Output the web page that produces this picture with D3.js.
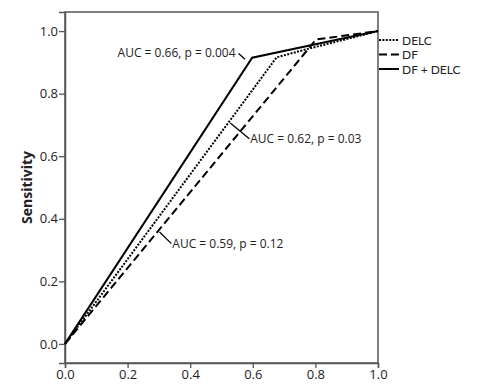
<!DOCTYPE html>
<html>
<head>
<meta charset="utf-8">
<script src="https://cdn.jsdelivr.net/npm/d3@7"></script>
<style>
  body { margin: 0; background: #fff; }
  svg text { font-family: "Open Sans", sans-serif; fill: #222; }
</style>
</head>
<body>
<svg id="chart" width="492" height="388"></svg>
<script>
// ROC points (1 - specificity, sensitivity)
var delcPoints = [[0, 0], [0.676, 0.916], [0.783, 0.945], [1, 1]];
var dfPoints = [[0, 0], [0.802, 0.973], [1, 1]];
var comboPoints = [[0, 0], [0.598, 0.915], [1, 1]];

var seriesNames = ["DELC", "DF", "DF + DELC"];
var xTicks = [0, 0.2, 0.4, 0.6, 0.8, 1.0];
var yTicks = [0, 0.2, 0.4, 0.6, 0.8, 1.0];

// annotations: text, anchor point on the curve, text start
var aucLabels = [
    { text: "AUC = 0.66, p = 0.004", at: [0.575, 0.91], tx: [0.545, 0.935], anchor: "end" },
    { text: "AUC = 0.62, p = 0.03", at: [0.528, 0.706], tx: [0.592, 0.662], anchor: "start" },
    { text: "AUC = 0.59, p = 0.12", at: [0.302, 0.358], tx: [0.343, 0.327], anchor: "start" }
];

var svg = d3.select("#chart");
var margin = { left: 65, top: 12, right: 114, bottom: 25 };
var width = 492 - margin.left - margin.right;
var height = 388 - margin.top - margin.bottom;

var x = d3.scaleLinear().domain([0, 1]).range([margin.left, margin.left + width]);
var y = d3.scaleLinear().domain([-0.061, 1.061]).range([margin.top + height, margin.top]);

// frame
svg.append("rect")
    .attr("x", x(0)).attr("y", y(1.061))
    .attr("width", width).attr("height", height)
    .attr("fill", "none").attr("stroke", "#555").attr("stroke-width", 1.5);

var xAxis = svg.append("g")
    .attr("transform", "translate(0," + y(-0.061) + ")")
    .call(d3.axisBottom(x).tickValues(xTicks).tickFormat(d3.format(".1f")).tickSize(5).tickPadding(2));
var yAxis = svg.append("g")
    .attr("transform", "translate(" + x(0) + ",0)")
    .call(d3.axisLeft(y).tickValues(yTicks).tickFormat(d3.format(".1f")).tickSize(6).tickPadding(1));

[xAxis, yAxis].forEach(function(ax) {
    ax.select(".domain").attr("stroke", "#555").attr("stroke-width", 1.5);
    ax.selectAll(".tick line").attr("stroke", "#555").attr("stroke-width", 1.3);
    ax.selectAll(".tick text").style("font-size", "13px").attr("fill", "#222")
        .style("font-family", "'Open Sans', sans-serif");
});

svg.append("text")
    .attr("transform", "translate(32," + y(0.5) + ") rotate(-90)")
    .attr("text-anchor", "middle")
    .style("font-size", "14px").style("font-weight", "bold")
    .text("Sensitivity");

var line = d3.line().x((d) => x(d[0])).y((d) => y(d[1]));

var series = [
    { name: seriesNames[0], pts: delcPoints, dash: "2,1.4" },
    { name: seriesNames[1], pts: dfPoints, dash: "8,4" },
    { name: seriesNames[2], pts: comboPoints, dash: null }
];

svg.selectAll("path.roc")
    .data(series)
    .enter()
    .append("path")
    .attr("class", "roc")
    .attr("d", (d) => line(d.pts))
    .attr("fill", "none")
    .attr("stroke", "#000")
    .attr("stroke-width", 2)
    .attr("stroke-dasharray", (d) => d.dash);

// AUC labels with leader lines
aucLabels.forEach(function(a) {
    var endX = a.anchor == "end" ? x(a.tx[0]) + 3 : x(a.tx[0]) - 1;
    svg.append("line")
        .attr("x1", x(a.at[0])).attr("y1", y(a.at[1]))
        .attr("x2", endX).attr("y2", y(a.tx[1]) + 2)
        .attr("stroke", "#000").attr("stroke-width", 1.3);
    svg.append("text")
        .attr("x", x(a.tx[0])).attr("y", y(a.tx[1]) + 6)
        .attr("text-anchor", a.anchor)
        .style("font-size", "12px")
        .text(a.text);
});

// legend
var legend = svg.selectAll("g.leg")
    .data(series)
    .enter()
    .append("g")
    .attr("class", "leg")
    .attr("transform", (d, i) => "translate(379," + (40 + i * 14.5) + ")");
legend.append("line")
    .attr("x1", 0).attr("x2", 20).attr("y1", 0).attr("y2", 0)
    .attr("stroke", "#000").attr("stroke-width", 2)
    .attr("stroke-dasharray", (d) => d.dash);
legend.append("text")
    .attr("x", 23).attr("y", 4.5)
    .style("font-size", "12px")
    .style("font-family", "Lato, sans-serif")
    .text((d) => d.name);
</script>
</body>
</html>
